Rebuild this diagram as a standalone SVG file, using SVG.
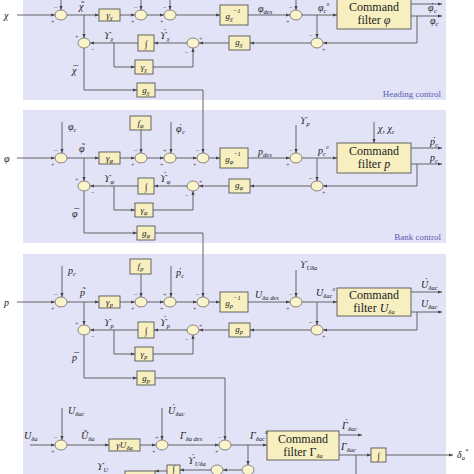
<svg xmlns="http://www.w3.org/2000/svg" width="474" height="474" viewBox="0 0 474 474">
<defs>
<marker id="ar" viewBox="0 0 6 6" refX="6" refY="3" markerWidth="4.5" markerHeight="4.5" orient="auto"><path d="M0,0.6L6,3L0,5.4z" fill="#444"/></marker>
<style>
.pan{fill:#e3e3f7}
.sum{fill:#fbf3c9;stroke:#6a6a6a;stroke-width:0.8}
.blk{fill:#f7efc0;stroke:#555;stroke-width:0.9}
.ln{fill:none;stroke:#555;stroke-width:0.9;marker-end:url(#ar)}
.ln0{fill:none;stroke:#555;stroke-width:0.9}
.m{font-family:"Liberation Serif","DejaVu Serif",serif;font-style:italic;font-size:10px;fill:#222}
.bt{font-family:"Liberation Serif","DejaVu Serif",serif;font-style:italic;font-size:9px;fill:#222}
.cf{font-family:"Liberation Serif","DejaVu Serif",serif;font-size:12px;fill:#222;text-anchor:middle}
.sb{font-size:6.5px}
.sp{font-size:5px}
.sg{font-family:"Liberation Sans",sans-serif;font-size:6px;fill:#666}
.sec{font-family:"Liberation Serif","DejaVu Serif",serif;font-size:9px;fill:#5a5ab0;text-anchor:end}
</style>
</defs>
<rect width="474" height="474" fill="#ffffff"/>
<rect class="pan" x="23" y="-2" width="423" height="102"/>
<rect class="pan" x="23" y="110" width="423" height="133"/>
<rect class="pan" x="23" y="254" width="423" height="222"/>
<text class="sec" x="441" y="97">Heading control</text>
<text class="sec" x="441" y="240">Bank control</text>

<g id="connectors">
<path class="ln" d="M17,15H55"/>
<path class="ln" d="M61,0V10"/>
<path class="ln" d="M67,15H99"/>
<path class="ln" d="M120,15H135"/>
<path class="ln" d="M141,0V10"/>
<path class="ln" d="M147,15H164"/>
<path class="ln" d="M170,0V10"/>
<path class="ln" d="M176,15H220"/>
<path class="ln" d="M248,15H290"/>
<path class="ln" d="M296,0V10"/>
<path class="ln" d="M302,15H337"/>
<path class="ln" d="M317,15V38"/>
<path class="ln" d="M411,4H442"/>
<path class="ln" d="M411,16H442"/>
<path class="ln" d="M417,16V43H323"/>
<path class="ln" d="M311,43H250"/>
<path class="ln" d="M229,43H199"/>
<path class="ln" d="M187,43H154"/>
<path class="ln" d="M138,43H90"/>
<path class="ln" d="M84,15V38"/>
<path class="ln" d="M114,43V67H135"/>
<path class="ln" d="M153,67H193V48"/>
<path class="ln" d="M84,48V90H137"/>
<path class="ln" d="M155,90H203V153"/>
<path class="ln" d="M17,158H55"/>
<path class="ln" d="M62,122V153"/>
<path class="ln" d="M67,158H99"/>
<path class="ln" d="M120,158H135"/>
<path class="ln" d="M141,130V153"/>
<path class="ln" d="M147,158H164"/>
<path class="ln" d="M171,122V153"/>
<path class="ln" d="M176,158H197"/>
<path class="ln" d="M209,158H220"/>
<path class="ln" d="M248,158H290"/>
<path class="ln" d="M296,125V153"/>
<path class="ln" d="M302,158H337"/>
<path class="ln" d="M317,158V181"/>
<path class="ln" d="M374,122V143"/>
<path class="ln" d="M411,148H442"/>
<path class="ln" d="M411,164H442"/>
<path class="ln" d="M417,164V186H323"/>
<path class="ln" d="M311,186H250"/>
<path class="ln" d="M229,186H199"/>
<path class="ln" d="M187,186H154"/>
<path class="ln" d="M138,186H90"/>
<path class="ln" d="M84,158V181"/>
<path class="ln" d="M114,186V210H135"/>
<path class="ln" d="M153,210H193V191"/>
<path class="ln" d="M84,191V233H137"/>
<path class="ln" d="M155,233H203V297"/>
<path class="ln" d="M17,302H55"/>
<path class="ln" d="M62,266V297"/>
<path class="ln" d="M67,302H99"/>
<path class="ln" d="M120,302H135"/>
<path class="ln" d="M141,274V297"/>
<path class="ln" d="M147,302H164"/>
<path class="ln" d="M171,266V297"/>
<path class="ln" d="M176,302H197"/>
<path class="ln" d="M209,302H220"/>
<path class="ln" d="M248,302H290"/>
<path class="ln" d="M296,270V297"/>
<path class="ln" d="M302,302H337"/>
<path class="ln" d="M317,302V325"/>
<path class="ln" d="M411,292H442"/>
<path class="ln" d="M411,312H442"/>
<path class="ln" d="M417,312V330H323"/>
<path class="ln" d="M311,330H250"/>
<path class="ln" d="M229,330H199"/>
<path class="ln" d="M187,330H154"/>
<path class="ln" d="M138,330H90"/>
<path class="ln" d="M84,302V325"/>
<path class="ln" d="M114,330V354H135"/>
<path class="ln" d="M153,354H193V335"/>
<path class="ln" d="M84,335V378H137"/>
<path class="ln" d="M155,378H225V440"/>
<path class="ln" d="M30,445H55"/>
<path class="ln" d="M62,408V440"/>
<path class="ln" d="M67,445H109"/>
<path class="ln" d="M140,445H156"/>
<path class="ln" d="M162,408V440"/>
<path class="ln" d="M168,445H219"/>
<path class="ln" d="M231,445H267"/>
<path class="ln" d="M248,445V465"/>
<path class="ln" d="M339,435H362"/>
<path class="ln" d="M339,455H371"/>
<path class="ln" d="M386,455H453"/>
<path class="ln0" d="M356,455V476"/>
<path class="ln" d="M242,470H223"/>
<path class="ln" d="M211,470H180"/>
<path class="ln" d="M167,471H155"/>
</g>

<g id="signs">
<text class="sg" x="54" y="9">−</text><text class="sg" x="51" y="23">+</text>
<text class="sg" x="134" y="9">−</text><text class="sg" x="131" y="23">+</text>
<text class="sg" x="163" y="9">−</text><text class="sg" x="160" y="23">+</text>
<text class="sg" x="289" y="9">−</text><text class="sg" x="286" y="23">+</text>
<text class="sg" x="309" y="37">−</text><text class="sg" x="322" y="51">+</text>
<text class="sg" x="199" y="40">+</text><text class="sg" x="185" y="54">−</text>
<text class="sg" x="75" y="38">+</text><text class="sg" x="91" y="51">−</text>
<text class="sg" x="54" y="152">−</text><text class="sg" x="51" y="166">+</text>
<text class="sg" x="134" y="152">−</text><text class="sg" x="131" y="166">+</text>
<text class="sg" x="163" y="152">+</text><text class="sg" x="160" y="166">+</text>
<text class="sg" x="196" y="152">−</text><text class="sg" x="193" y="166">+</text>
<text class="sg" x="289" y="152">−</text><text class="sg" x="286" y="166">+</text>
<text class="sg" x="309" y="180">−</text><text class="sg" x="322" y="194">+</text>
<text class="sg" x="199" y="183">+</text><text class="sg" x="185" y="197">−</text>
<text class="sg" x="75" y="181">+</text><text class="sg" x="91" y="194">−</text>
<text class="sg" x="54" y="296">−</text><text class="sg" x="51" y="310">+</text>
<text class="sg" x="134" y="296">−</text><text class="sg" x="131" y="310">+</text>
<text class="sg" x="163" y="296">+</text><text class="sg" x="160" y="310">+</text>
<text class="sg" x="196" y="296">−</text><text class="sg" x="193" y="310">+</text>
<text class="sg" x="289" y="296">−</text><text class="sg" x="286" y="310">+</text>
<text class="sg" x="309" y="324">−</text><text class="sg" x="322" y="338">+</text>
<text class="sg" x="199" y="327">+</text><text class="sg" x="185" y="341">−</text>
<text class="sg" x="75" y="325">+</text><text class="sg" x="91" y="338">−</text>
<text class="sg" x="54" y="439">−</text><text class="sg" x="51" y="453">+</text>
<text class="sg" x="155" y="439">+</text><text class="sg" x="152" y="453">+</text>
<text class="sg" x="218" y="439">−</text><text class="sg" x="215" y="453">+</text>
</g>

<g id="row1">
<g id="s1a"><ellipse class="sum" cx="61" cy="15" rx="6" ry="5"/></g>
<g id="s1b"><ellipse class="sum" cx="141" cy="15" rx="6" ry="5"/></g>
<g id="s1c"><ellipse class="sum" cx="170" cy="15" rx="6" ry="5"/></g>
<g id="s1d"><ellipse class="sum" cx="296" cy="15" rx="6" ry="5"/></g>
<g id="s1e"><ellipse class="sum" cx="317" cy="43" rx="6" ry="5"/></g>
<g id="s1f"><ellipse class="sum" cx="193" cy="43" rx="6" ry="5"/></g>
<g id="s1g"><ellipse class="sum" cx="84" cy="43" rx="6" ry="5"/></g>
<g id="gam1"><rect class="blk" x="99" y="9" width="21" height="12"/><text class="bt" x="109.5" y="18" text-anchor="middle">γ<tspan class="sb" dy="2">χ</tspan></text></g>
<g id="ginv1"><rect class="blk" x="220" y="5" width="28" height="20"/><text class="bt" x="233" y="19" text-anchor="middle">g<tspan class="sb" dy="2">χ</tspan><tspan class="sb" dy="-8">−1</tspan></text></g>
<g id="cf1"><rect class="blk" x="337" y="-1" width="74" height="30"/><text class="cf" x="374" y="11">Command</text><text class="cf" x="374" y="24">filter <tspan font-style="italic">φ</tspan></text></g>
<g id="gl1"><rect class="blk" x="229" y="36" width="21" height="14"/><text class="bt" x="239" y="45" text-anchor="middle">g<tspan class="sb" dy="2">χ</tspan></text></g>
<g id="int1"><rect class="blk" x="138" y="35" width="16" height="16"/><text class="bt" x="146" y="47" text-anchor="middle">∫</text></g>
<g id="gaml1"><rect class="blk" x="135" y="60" width="18" height="14"/><text class="bt" x="144" y="70" text-anchor="middle">γ<tspan class="sb" dy="2">χ</tspan></text></g>
<g id="gb1"><rect class="blk" x="137" y="83" width="18" height="14"/><text class="bt" x="146" y="93" text-anchor="middle">g<tspan class="sb" dy="2">χ</tspan></text></g>
<text class="m" x="4" y="19" font-size="11">χ</text>
<text class="m" x="79" y="10">χ<tspan dx="-3" dy="-1">˜</tspan></text>
<text class="m" x="258" y="12">φ<tspan class="sb" dy="2">des</tspan></text>
<text class="m" x="318" y="11">φ<tspan class="sb" dy="2">c</tspan><tspan class="sp" dy="-7">0</tspan></text>
<text class="m" x="428" y="11">φ<tspan dx="-3.3" dy="-1">˙</tspan><tspan class="sb" dx="0.3" dy="3">c</tspan></text>
<text class="m" x="430" y="24">φ<tspan class="sb" dy="2">c</tspan></text>
<text class="m" x="104" y="39">ϒ<tspan class="sb" dy="2">χ</tspan></text>
<text class="m" x="160" y="39">ϒ<tspan dx="-3.7" dy="-3.5">˙</tspan><tspan class="sb" dx="0.7" dy="5.5">χ</tspan></text>
<text class="m" x="72" y="74">χ<tspan dx="-3.8" dy="-1">¯</tspan></text>
</g>

<g id="row2">
<g id="s2a"><ellipse class="sum" cx="61" cy="158" rx="6" ry="5"/></g>
<g id="s2b"><ellipse class="sum" cx="141" cy="158" rx="6" ry="5"/></g>
<g id="s2c"><ellipse class="sum" cx="170" cy="158" rx="6" ry="5"/></g>
<g id="s2d"><ellipse class="sum" cx="203" cy="158" rx="6" ry="5"/></g>
<g id="s2e"><ellipse class="sum" cx="296" cy="158" rx="6" ry="5"/></g>
<g id="s2f"><ellipse class="sum" cx="317" cy="186" rx="6" ry="5"/></g>
<g id="s2g"><ellipse class="sum" cx="193" cy="186" rx="6" ry="5"/></g>
<g id="s2h"><ellipse class="sum" cx="84" cy="186" rx="6" ry="5"/></g>
<g id="gam2"><rect class="blk" x="99" y="152" width="21" height="12"/><text class="bt" x="109.5" y="161" text-anchor="middle">γ<tspan class="sb" dy="2">φ</tspan></text></g>
<g id="f2"><rect class="blk" x="130" y="116" width="21" height="14"/><text class="bt" x="140.5" y="126" text-anchor="middle">f<tspan class="sb" dy="2">φ</tspan></text></g>
<g id="ginv2"><rect class="blk" x="220" y="148" width="28" height="20"/><text class="bt" x="233" y="162" text-anchor="middle">g<tspan class="sb" dy="2">φ</tspan><tspan class="sb" dy="-8">−1</tspan></text></g>
<g id="cf2"><rect class="blk" x="337" y="143" width="74" height="30"/><text class="cf" x="374" y="155">Command</text><text class="cf" x="374" y="168">filter <tspan font-style="italic">p</tspan></text></g>
<g id="gl2"><rect class="blk" x="229" y="179" width="21" height="14"/><text class="bt" x="239" y="188" text-anchor="middle">g<tspan class="sb" dy="2">φ</tspan></text></g>
<g id="int2"><rect class="blk" x="138" y="178" width="16" height="16"/><text class="bt" x="146" y="190" text-anchor="middle">∫</text></g>
<g id="gaml2"><rect class="blk" x="135" y="203" width="18" height="14"/><text class="bt" x="144" y="213" text-anchor="middle">γ<tspan class="sb" dy="2">φ</tspan></text></g>
<g id="gb2"><rect class="blk" x="137" y="226" width="18" height="14"/><text class="bt" x="146" y="236" text-anchor="middle">g<tspan class="sb" dy="2">φ</tspan></text></g>
<text class="m" x="4" y="162" font-size="11">φ</text>
<text class="m" x="68" y="130">φ<tspan class="sb" dy="2">c</tspan></text>
<text class="m" x="79" y="152">φ<tspan dx="-3.3" dy="-1">˜</tspan></text>
<text class="m" x="176" y="132">φ<tspan dx="-3.3" dy="-1">˙</tspan><tspan class="sb" dx="0.3" dy="3">c</tspan></text>
<text class="m" x="258" y="155">p<tspan class="sb" dy="2">des</tspan></text>
<text class="m" x="300" y="124">ϒ<tspan class="sb" dy="2">p</tspan></text>
<text class="m" x="318" y="154">p<tspan class="sb" dy="2">c</tspan><tspan class="sp" dy="-7">0</tspan></text>
<text class="m" x="378" y="132">χ, χ<tspan class="sb" dy="2">c</tspan></text>
<text class="m" x="430" y="145">p<tspan dx="-2.9" dy="-1">˙</tspan><tspan class="sb" dx="-0.1" dy="3">c</tspan></text>
<text class="m" x="430" y="161">p<tspan class="sb" dy="2">c</tspan></text>
<text class="m" x="104" y="182">ϒ<tspan class="sb" dy="2">φ</tspan></text>
<text class="m" x="160" y="182">ϒ<tspan dx="-3.7" dy="-3.5">˙</tspan><tspan class="sb" dx="0.7" dy="5.5">φ</tspan></text>
<text class="m" x="72" y="217">φ<tspan dx="-4" dy="-1">¯</tspan></text>
</g>

<g id="row3">
<g id="s3a"><ellipse class="sum" cx="61" cy="302" rx="6" ry="5"/></g>
<g id="s3b"><ellipse class="sum" cx="141" cy="302" rx="6" ry="5"/></g>
<g id="s3c"><ellipse class="sum" cx="170" cy="302" rx="6" ry="5"/></g>
<g id="s3d"><ellipse class="sum" cx="203" cy="302" rx="6" ry="5"/></g>
<g id="s3e"><ellipse class="sum" cx="296" cy="302" rx="6" ry="5"/></g>
<g id="s3f"><ellipse class="sum" cx="317" cy="330" rx="6" ry="5"/></g>
<g id="s3g"><ellipse class="sum" cx="193" cy="330" rx="6" ry="5"/></g>
<g id="s3h"><ellipse class="sum" cx="84" cy="330" rx="6" ry="5"/></g>
<g id="gam3"><rect class="blk" x="99" y="296" width="21" height="12"/><text class="bt" x="109.5" y="305" text-anchor="middle">γ<tspan class="sb" dy="2">p</tspan></text></g>
<g id="f3"><rect class="blk" x="130" y="259" width="21" height="15"/><text class="bt" x="140.5" y="269" text-anchor="middle">f<tspan class="sb" dy="2">p</tspan></text></g>
<g id="ginv3"><rect class="blk" x="220" y="292" width="28" height="20"/><text class="bt" x="233" y="306" text-anchor="middle">g<tspan class="sb" dy="2">p</tspan><tspan class="sb" dy="-8">−1</tspan></text></g>
<g id="cf3"><rect class="blk" x="337" y="288" width="74" height="28"/><text class="cf" x="374" y="299">Command</text><text class="cf" x="374" y="312">filter <tspan font-style="italic">U<tspan class="sb" dy="2">δa</tspan></tspan></text></g>
<g id="gl3"><rect class="blk" x="229" y="323" width="21" height="14"/><text class="bt" x="239" y="332" text-anchor="middle">g<tspan class="sb" dy="2">p</tspan></text></g>
<g id="int3"><rect class="blk" x="138" y="322" width="16" height="16"/><text class="bt" x="146" y="334" text-anchor="middle">∫</text></g>
<g id="gaml3"><rect class="blk" x="135" y="347" width="18" height="14"/><text class="bt" x="144" y="357" text-anchor="middle">γ<tspan class="sb" dy="2">p</tspan></text></g>
<g id="gb3"><rect class="blk" x="137" y="371" width="18" height="14"/><text class="bt" x="146" y="381" text-anchor="middle">g<tspan class="sb" dy="2">p</tspan></text></g>
<text class="m" x="4" y="306" font-size="11">p</text>
<text class="m" x="68" y="274">p<tspan class="sb" dy="2">c</tspan></text>
<text class="m" x="80" y="296">p<tspan dx="-2.9" dy="-1">˜</tspan></text>
<text class="m" x="176" y="276">p<tspan dx="-2.9" dy="-1">˙</tspan><tspan class="sb" dx="-0.1" dy="3">c</tspan></text>
<text class="m" x="255" y="298">U<tspan class="sb" dy="2">δa des</tspan></text>
<text class="m" x="300" y="268">ϒ<tspan class="sb" dy="2">Uδa</tspan></text>
<text class="m" x="316" y="296">U<tspan class="sb" dy="2">δac</tspan><tspan class="sp" dy="-7">0</tspan></text>
<text class="m" x="421" y="288">U<tspan dx="-4" dy="-3.5">˙</tspan><tspan class="sb" dx="1" dy="5.5">δac</tspan></text>
<text class="m" x="421" y="307">U<tspan class="sb" dy="2">δac</tspan></text>
<text class="m" x="104" y="326">ϒ<tspan class="sb" dy="2">p</tspan></text>
<text class="m" x="160" y="326">ϒ<tspan dx="-3.7" dy="-3.5">˙</tspan><tspan class="sb" dx="0.7" dy="5.5">p</tspan></text>
<text class="m" x="72" y="361">p<tspan dx="-3.7" dy="-1">¯</tspan></text>
</g>

<g id="row4">
<g id="s4a"><ellipse class="sum" cx="61" cy="445" rx="6" ry="5"/></g>
<g id="s4b"><ellipse class="sum" cx="162" cy="445" rx="6" ry="5"/></g>
<g id="s4c"><ellipse class="sum" cx="225" cy="445" rx="6" ry="5"/></g>
<g id="s4d"><ellipse class="sum" cx="248" cy="470" rx="6" ry="5"/></g>
<g id="s4e"><ellipse class="sum" cx="217" cy="470" rx="6" ry="5"/></g>
<g id="gam4"><rect class="blk" x="109" y="439" width="31" height="12"/><text class="bt" x="124.5" y="448" text-anchor="middle">γU<tspan class="sb" dy="2">δa</tspan></text></g>
<g id="cf4"><rect class="blk" x="267" y="431" width="72" height="29"/><text class="cf" x="303" y="443">Command</text><text class="cf" x="303" y="456">filter Γ<tspan class="sb" dy="2" font-style="italic">δa</tspan></text></g>
<g id="int4"><rect class="blk" x="371" y="448" width="15" height="14"/><text class="bt" x="378.5" y="459" text-anchor="middle">∫</text></g>
<g id="int5"><rect class="blk" x="167" y="465" width="13" height="12"/><text class="bt" x="173.5" y="472" text-anchor="middle" font-size="7">∫</text></g>
<g id="gam5"><rect class="blk" x="125" y="471" width="30" height="10"/></g>
<text class="m" x="24" y="439">U<tspan class="sb" dy="2">δa</tspan></text>
<text class="m" x="68" y="414">U<tspan class="sb" dy="2">δac</tspan></text>
<text class="m" x="81" y="439">Ũ<tspan class="sb" dy="2">δa</tspan></text>
<text class="m" x="168" y="414">U<tspan dx="-4" dy="-3.5">˙</tspan><tspan class="sb" dx="1" dy="5.5">δac</tspan></text>
<text class="m" x="180" y="439">Γ<tspan class="sb" dy="2">δa des</tspan></text>
<text class="m" x="250" y="439">Γ<tspan class="sb" dy="2">δac</tspan><tspan class="sp" dy="-7">0</tspan></text>
<text class="m" x="342" y="429">Γ<tspan dx="-3.4" dy="-3.5">˙</tspan><tspan class="sb" dx="0.4" dy="5.5">δac</tspan></text>
<text class="m" x="341" y="450">Γ<tspan class="sb" dy="2">δac</tspan></text>
<text class="m" x="457" y="458">δ<tspan class="sb" dy="2">a</tspan><tspan class="sb" dy="-7">*</tspan></text>
<text class="m" x="188" y="464">ϒ<tspan dx="-3.7" dy="-3.5">˙</tspan><tspan class="sb" dx="0.7" dy="5.5">Uδa</tspan></text>
<text class="m" x="97" y="470">ϒ<tspan class="sb" dy="2">U</tspan></text>
</g>
</svg>
